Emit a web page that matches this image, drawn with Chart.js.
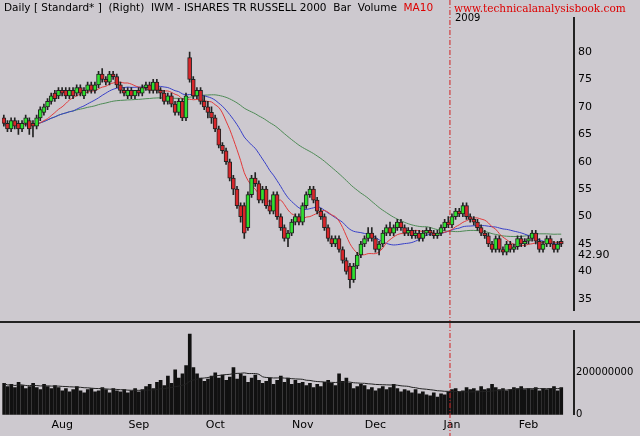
<!DOCTYPE html>
<html>
<head>
<meta charset="utf-8">
<script src="https://cdn.jsdelivr.net/npm/chart.js@4.4.1/dist/chart.umd.min.js"></script>
<style>
body { margin: 0; background: #cdc9cf; font-family: "DejaVu Sans", sans-serif; }
#wrap { position: relative; width: 640px; height: 436px; overflow: hidden; }
#priceBox { position: absolute; left: 0; top: 0; width: 640px; height: 321px; }
#volBox { position: absolute; left: 0; top: 323px; width: 640px; height: 113px; }
#sep { position: absolute; left: 0; top: 321px; width: 640px; height: 2px; background: #222; }
#title { position: absolute; left: 4px; top: 1px; font-size: 10.5px; color: #000; white-space: pre; }
#title span { color: #d00; }
#yr { position: absolute; left: 455px; top: 12px; font-size: 10px; }
#site { position: absolute; left: 454px; top: 2px; font-size: 10.5px; color: #d00; font-family: "DejaVu Serif", serif; }
</style>
</head>
<body>
<div id="wrap">
  <div id="priceBox"><canvas id="price"></canvas></div>
  <div id="volBox"><canvas id="vol"></canvas></div>
  <div id="sep"></div>
  <div id="title">Daily [ Standard* ]  (Right)  IWM - ISHARES TR RUSSELL 2000  Bar  Volume  <span>MA10</span></div>
  <div id="yr">2009</div>
  <div id="site">www.technicalanalysisbook.com</div>
</div>
<script>
// month name shown at the first bar of each month
const monthNames = ['Aug', 'Sep', 'Oct', 'Nov', 'Dec', 'Jan', 'Feb'];
const monthStarts = [16, 37, 58, 82, 102, 123, 144];
const yearStart = 123;
const priceTicks = [35, 40, 45, 50, 55, 60, 65, 70, 75, 80];
const lastPrice = 42.90;
const padBars = 3;

const opens = [
  68,67,66,67.5,67,66,67,67.5,67,66.5,68,69,70,71,72.5,72,
  73,73,72,73,72.5,73.5,72,73,74,73,74,76,75,74.5,76,75.5,74,73,72,73,72,
  73,72.5,73.5,74,73,74.5,73,72.5,71,72,70.5,69,71,68,79,75,72,73,71,70,69,
  68,66,63,62,60,57,55,52,52,48,54,57,56,53,55,52,51,54,50,48,46,47,49,50,
  49,52,54,55,53,51,50,48,46,45,46,44,42,41,38.5,41,43,45,46,47,
  46,44,45,47,48,47,48,49,48,47,47.5,46.5,47,46,47,47.5,47,46.5,47,48,49,
  48.5,50,51,50.5,52,50,49.5,49,48,47,46.5,45,44,46,44,43.5,45,44,44.5,46,45,
  45.5,46,47,45.5,44,45,46,45,44,45.5
];
const closes = [
  67,66,67.5,66.5,66,67,68,66,66.5,68,69.5,70,71,72,71.5,73,
  72.5,72,73,72,73.5,72.5,73,74,73,74,76,75,74.5,76,75.5,74,73,72.5,73,72,73,
  72.5,73.5,74,73,74.5,73,72.5,71,72,70.5,69,71,68,72,75,72,73,71,70,69,68,
  66,63,62,60,57,55,52,50,47,54,57,56,53,55,52,51,54,50,48,46,47,49,50,49,
  52,54,55,53,51,50,48,46,45,46,44,42,40,38.5,41,43,45,46,47,46,
  44,45,47,48,47,48,49,48,47,47.5,46.5,47,46,47,47.5,47,46.5,47,48,49,48.5,
  50,51,50.5,52,50,49.5,49,48,47,46.5,45,44,46,44,43.5,45,44,44.5,46,45,45.5,
  46,47,45.5,44,45,46,45,44,45,45
];
const highs = [
  68.5,67.5,68,68,67.5,67.5,68.5,68,67.5,68.5,70,70.5,71.5,72.5,73,73.5,
  73.5,73.5,73.5,73.5,74,74,73.5,74.5,74.5,74.5,76.5,77,75.5,76.5,76.5,76,74.5,73.5,73.5,73.5,73,
  73.5,74,74.5,74.5,75,75,73.5,73,72.5,72.5,71,71.5,71.5,72.5,80,75.5,73.5,73.5,72,71,70,
  68.5,66.5,63.5,62.5,60.5,57.5,55.5,52.5,52.5,54.5,57.5,58,56.5,55.5,55.5,53,54.5,54.5,50.5,48.5,47.5,49.5,50.5,50.5,
  52.5,54.5,55.5,55.5,53.5,51.5,50.5,48.5,46.5,46.5,46.5,44.5,42.5,41.5,41.5,43.5,45.5,46.5,48,48,
  46.5,45.5,47.5,48.5,49,48.5,49.5,49.5,48.5,48,48,47.5,47.5,47.5,48,48,47.5,47.5,48.5,49.5,50,
  50.5,51.5,51.5,52.5,52.5,50.5,50,49.5,48.5,47.5,47,45.5,46.5,46.5,44.5,45.5,45.5,45,46.5,46.5,46,
  46.5,47.5,47.5,46,45.5,46.5,46.5,45.5,45.5,46
];
const lows = [
  66.5,65.5,65.5,66,65,65.5,66.5,65,64.5,66,67.5,68.5,69.5,70.5,71,71.5,
  72,71.5,71.5,71.5,72,72,71.5,72.5,72.5,72.5,73.5,74.5,74,74,75,73.5,72.5,72,71.5,71.5,71.5,
  72,72,73,72.5,72.5,72.5,71.5,70.5,70.5,70,68.5,68.5,67.5,67.5,74.5,71.5,71.5,70.5,69.5,68,67,
  65.5,62.5,61.5,59.5,56.5,54,51.5,49,46,47.5,53.5,55.5,52.5,52.5,51.5,50.5,50.5,49.5,47.5,45.5,44.5,46.5,48.5,48.5,
  48.5,51.5,53.5,52.5,50.5,49.5,47.5,45.5,44.5,44.5,43.5,41.5,39.5,37,38,40.5,42.5,44.5,45.5,45.5,
  43.5,43,44.5,46.5,46.5,46.5,47.5,47.5,46.5,46.5,46,46,45.5,45.5,46.5,46.5,46,46,46.5,47.5,48,
  48,49.5,50,50,49.5,49,48.5,47.5,46.5,46,44.5,43.5,43.5,43.5,43,43,43.5,43.5,44,44.5,44.5,
  45,45.5,45,43.5,43.5,44.5,44.5,43.5,43.5,44.5
];
// volume in millions of shares
const volumesM = [
  150,135,145,130,155,140,125,135,150,130,120,145,135,125,140,130,
  115,125,110,120,135,115,105,120,125,110,115,130,120,105,125,115,110,120,105,115,125,
  110,120,135,145,125,155,165,140,185,150,215,175,195,235,385,225,195,175,160,170,185,
  200,175,190,165,180,225,170,195,185,155,175,190,165,150,160,175,145,165,185,155,175,145,165,150,
  155,140,150,130,145,135,155,165,150,140,195,160,175,150,125,135,145,140,120,130,
  115,125,135,120,130,145,125,110,120,115,105,120,100,110,95,90,105,85,100,95,110,
  120,125,110,115,130,120,125,115,135,120,125,145,130,120,125,115,120,130,125,135,120,
  125,120,130,115,125,120,125,135,115,130
];

const n = closes.length;
const labels = [];
for (let i = 0; i < n + padBars; i++) labels.push(i);

function movingAvg(src, len) {
    return src.map((v, i) => {
        const from = Math.max(0, i - len + 1);
        const win = src.slice(from, i + 1);
        return win.reduce((s, x) => s + x, 0) / win.length;
    });
}

const upColor = '#2fe02f';
const downColor = '#d8262b';
const candleColors = closes.map((c, i) => c >= opens[i] ? upColor : downColor);
const bodies = closes.map((c, i) => [Math.min(c, opens[i]), Math.max(c, opens[i])]);
const wicks = closes.map((c, i) => [lows[i], highs[i]]);

// dashed red line at the year change, drawn on both panels
const yearLine = {
    id: 'yearLine',
    afterDatasetsDraw(chart) {
        const x = chart.scales.x.getPixelForValue(yearStart) - 2;
        const ctx = chart.ctx;
        ctx.save();
        ctx.strokeStyle = '#d02020';
        ctx.setLineDash([5, 2, 1, 2]);
        ctx.lineWidth = 1;
        ctx.beginPath();
        ctx.moveTo(x, 0);
        ctx.lineTo(x, chart.height);
        ctx.stroke();
        ctx.restore();
    }
};

const xScale = (showLabels) => ({
    type: 'category',
    offset: true,
    grid: { display: false, drawTicks: false },
    border: { display: false },
    ticks: {
        display: showLabels,
        autoSkip: false,
        maxRotation: 0,
        padding: 4,
        color: '#000',
        font: { size: 11, family: 'DejaVu Sans' },
        callback: (v) => {
            const k = monthStarts.indexOf(v);
            return k >= 0 ? monthNames[k] : '';
        }
    }
});

const yRight = {
    position: 'right',
    afterFit: (s) => { s.width = 66; },
    grid: { display: false, drawTicks: false },
    border: { display: true, color: '#222', width: 2 },
    ticks: { color: '#000', font: { size: 11, family: 'DejaVu Sans' }, padding: 4 }
};

new Chart(document.getElementById('price'), {
    type: 'bar',
    data: {
        labels: labels,
        datasets: [
            { type: 'line', data: movingAvg(closes, 10), borderColor: '#e23a3a', borderWidth: 1, pointRadius: 0, tension: 0.3, order: 3 },
            { type: 'line', data: movingAvg(closes, 20), borderColor: '#3840c8', borderWidth: 1, pointRadius: 0, tension: 0.3, order: 4 },
            { type: 'line', data: movingAvg(closes, 50), borderColor: '#4d8a55', borderWidth: 1, pointRadius: 0, tension: 0.3, order: 5 },
            { data: wicks, backgroundColor: '#222', barThickness: 1, grouped: false, order: 2 },
            { data: bodies, backgroundColor: candleColors, borderColor: '#222', borderWidth: 1, borderSkipped: false, barThickness: 4, minBarLength: 1, grouped: false, order: 1 }
        ]
    },
    options: {
        responsive: true,
        maintainAspectRatio: false,
        animation: false,
        layout: { padding: { left: 2, top: 18, bottom: 0 } },
        plugins: { legend: { display: false }, tooltip: { enabled: false } },
        scales: {
            x: xScale(false),
            y: Object.assign({}, yRight, {
                min: 32.9, max: 86.2,
                afterBuildTicks: (s) => {
                    s.ticks = priceTicks.concat([lastPrice]).map(v => ({ value: v }));
                },
                ticks: Object.assign({}, yRight.ticks, {
                    callback: (v) => v === lastPrice ? lastPrice.toFixed(2) : v
                })
            })
        }
    },
    plugins: [yearLine]
});

new Chart(document.getElementById('vol'), {
    type: 'bar',
    data: {
        labels: labels,
        datasets: [
            { type: 'line', data: movingAvg(volumesM, 20).map(v => v * 1e6), borderColor: '#222', borderWidth: 1, pointRadius: 0, tension: 0.3, order: 1 },
            { data: volumesM.map(v => v * 1e6), backgroundColor: '#111', barThickness: 3, order: 2 }
        ]
    },
    options: {
        responsive: true,
        maintainAspectRatio: false,
        animation: false,
        layout: { padding: { left: 2, top: 2 } },
        plugins: { legend: { display: false }, tooltip: { enabled: false } },
        scales: {
            x: xScale(true),
            y: Object.assign({}, yRight, {
                min: 0, max: 400e6,
                afterBuildTicks: (s) => { s.ticks = [{ value: 0 }, { value: 200e6 }]; },
                ticks: Object.assign({}, yRight.ticks, {
                    padding: 2,
                    font: { size: 10, family: 'DejaVu Sans' },
                    callback: (v) => String(v)
                })
            })
        }
    },
    plugins: [yearLine]
});
</script>
</body>
</html>
